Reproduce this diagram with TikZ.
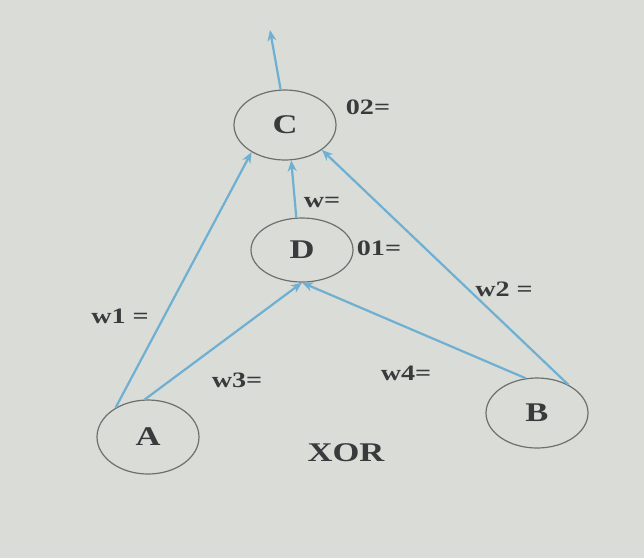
\documentclass[tikz,border=0pt]{standalone}
\usepackage{fontspec}
\setmainfont{Liberation Serif}
\newfontfamily\widefont[FakeStretch=1.28]{Liberation Serif}
\usetikzlibrary{shapes.geometric,arrows.meta}
\definecolor{bgc}{HTML}{D9DCD7}
\definecolor{edgec}{HTML}{6FAFD2}
\definecolor{ringc}{HTML}{6E706E}
\definecolor{txtc}{HTML}{3A3A3C}
\begin{document}
\begin{tikzpicture}[x=1pt,y=-1pt,
  unit/.style={ellipse,draw=ringc,line width=1.2pt,minimum width=102pt,minimum height=70pt,inner sep=0pt,
    font=\widefont\fontsize{27}{27}\selectfont\bfseries,text=txtc},
  wire/.style={draw=edgec,line width=2.2pt,-{Stealth[length=11pt,width=9pt]}},
  lab/.style={font=\widefont\fontsize{22}{22}\selectfont\bfseries,text=txtc,inner sep=0pt}]
\fill[bgc] (0,0) rectangle (644,558);
\useasboundingbox (0,0) rectangle (644,558);
\node[unit] (C) at (285,125) {C};
\node[unit,minimum height=64pt] (D) at (302,250) {D};
\node[unit,minimum height=74pt] (A) at (148,437) {A};
\node[unit] (B) at (537,413) {B};
\coordinate (out) at (270,30);
\draw[wire] (C.97) -- (out);
\draw[wire] (A.138) -- (C.219);
\draw[wire] (A.95) -- (D.south);
\draw[wire] (B.108) -- (D.south);
\draw[wire] (B.42) -- (C.-34);
\draw[wire] (D.100) -- (C.-80);
\node[lab] (lw1) at (120,316) {w1 =};
\node[lab] (lw3) at (237,380) {w3=};
\node[lab] (lw4) at (406,373) {w4=};
\node[lab] (lw2) at (504,289) {w2 =};
\node[lab] (lo2) at (368,107) {02=};
\node[lab] (lo1) at (379,248) {01=};
\node[lab] (lw) at (322,202) {w=};
\node[font=\widefont\fontsize{27}{27}\selectfont\bfseries,text=txtc] (xor) at (346,453) {XOR};
\end{tikzpicture}
\end{document}
